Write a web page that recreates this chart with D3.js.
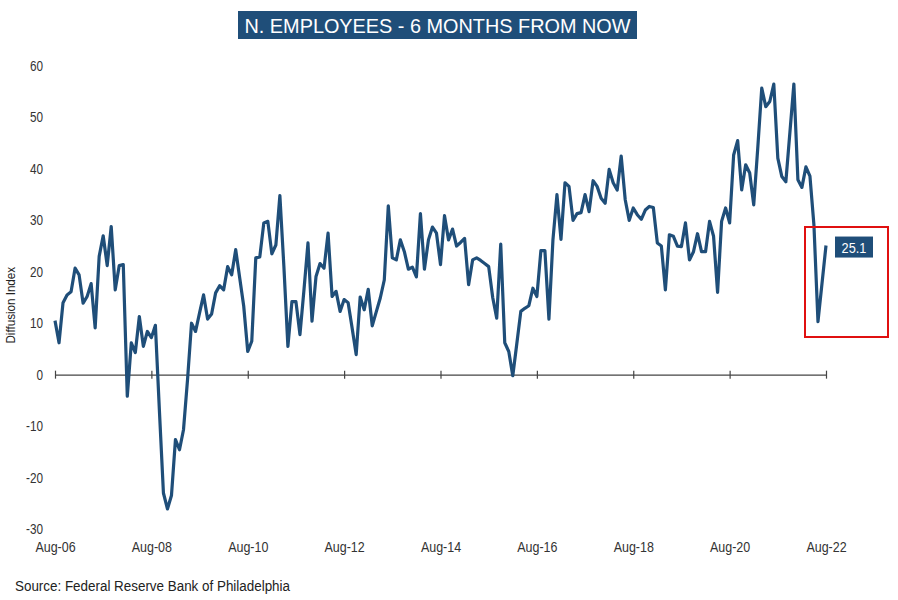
<!DOCTYPE html>
<html>
<head>
<meta charset="utf-8">
<script src="https://cdn.jsdelivr.net/npm/d3@7"></script>
<style>
  body { margin: 0; background: #fff; }
  svg text { font-family: "Liberation Sans Narrow", "Arial Narrow", "Liberation Sans", Arial, sans-serif; }
</style>
</head>
<body>
<div id="wrapper"></div>
<script>
// monthly diffusion index, Aug-06 .. Aug-22
const values = [
  10.5, 6.2, 14.0, 15.5, 16.1, 20.7, 19.4, 13.9, 15.2, 17.7, 9.1, 23.0,
  27.0, 21.2, 28.8, 16.5, 21.2, 21.4, -4.2, 6.2, 4.3, 11.3, 5.5, 8.4,
  7.2, 9.6, -7.0, -23.0, -26.1, -23.5, -12.6, -14.6, -10.7, -1.0, 10.0, 8.4,
  12.0, 15.5, 10.8, 11.8, 15.9, 17.3, 16.5, 21.0, 19.4, 24.3, 18.8, 13.3,
  4.5, 6.5, 22.7, 22.9, 29.5, 29.8, 23.5, 25.2, 34.8, 21.0, 5.5, 14.2,
  14.2, 7.8, 16.5, 25.6, 10.4, 19.1, 21.6, 20.7, 27.5, 15.2, 16.2, 12.3,
  14.6, 14.0, 9.0, 3.9, 15.1, 12.6, 16.6, 9.5, 12.2, 14.9, 18.4, 32.8,
  22.7, 22.3, 26.2, 23.9, 20.5, 20.9, 19.0, 31.3, 20.5, 26.2, 28.7, 27.5,
  21.4, 30.9, 26.2, 28.3, 25.0, 25.7, 26.5, 17.5, 22.3, 22.7, 22.2, 21.6,
  21.0, 15.0, 11.0, 25.4, 6.2, 4.5, -0.2, 6.0, 12.3, 12.9, 13.4, 16.8,
  15.2, 24.1, 24.1, 10.8, 26.2, 35.0, 26.3, 37.3, 36.6, 30.0, 31.3, 31.5,
  35.0, 31.7, 37.7, 36.6, 34.3, 33.3, 39.9, 37.3, 35.9, 42.5, 34.0, 30.0,
  32.4, 31.1, 30.2, 32.0, 32.7, 32.5, 25.6, 25.0, 16.5, 27.2, 26.9, 25.0,
  24.9, 29.5, 22.3, 23.9, 27.4, 23.9, 23.9, 29.8, 26.9, 16.0, 29.8, 32.4,
  29.5, 42.7, 45.5, 35.9, 40.8, 39.2, 33.0, 44.0, 55.7, 52.1, 53.1, 56.5,
  42.1, 38.5, 37.5, 47.0, 56.5, 37.9, 36.4, 40.4, 38.6, 29.0, 10.3, 17.7,
  25.1
];
const tickIndex = [0, 24, 48, 72, 96, 120, 144, 168, 192];
const tickLabels = ["Aug-06", "Aug-08", "Aug-10", "Aug-12", "Aug-14", "Aug-16", "Aug-18", "Aug-20", "Aug-22"];
const yTicks = [-30, -20, -10, 0, 10, 20, 30, 40, 50, 60];
const title = "N. EMPLOYEES - 6 MONTHS FROM NOW";
const yTitle = "Diffusion Index";
const source = "Source: Federal Reserve Bank of Philadelphia";

const blue = "#1f4e79";
const width = 898, height = 600;

// squeeze text horizontally to mimic a narrow face
function condense(sel, k) {
  sel.each(function () {
    const w = this.getComputedTextLength();
    d3.select(this).attr("textLength", w * k).attr("lengthAdjust", "spacingAndGlyphs");
  });
}

const svg = d3.select("#wrapper").append("svg")
  .attr("width", width)
  .attr("height", height);

// scales
const x = d3.scaleLinear().domain([0, values.length - 1]).range([55, 826]);
const y = d3.scaleLinear().domain([-30, 60]).range([529, 66]);

// title box
const titleG = svg.append("g");
titleG.append("rect")
  .attr("x", 238).attr("y", 11)
  .attr("width", 399).attr("height", 28)
  .attr("fill", blue);
titleG.append("text")
  .attr("x", 437.5).attr("y", 32.5)
  .attr("text-anchor", "middle")
  .attr("fill", "#fff")
  .attr("font-size", 21)
  .attr("textLength", 386)
  .attr("lengthAdjust", "spacingAndGlyphs")
  .text(title);

// y axis labels
const yAxis = svg.append("g")
  .attr("transform", "translate(43,0)")
  .call(d3.axisLeft(y).tickValues(yTicks).tickSize(0).tickPadding(0).tickFormat(d => String(d)));
yAxis.select(".domain").remove();
yAxis.selectAll("text")
  .attr("font-size", 14)
  .attr("fill", "#333")
  .call(condense, 0.84);

svg.append("text")
  .attr("transform", `translate(15,${y(13.5)}) rotate(-90)`)
  .attr("text-anchor", "middle")
  .attr("font-size", 13.5)
  .attr("fill", "#222")
  .text(yTitle)
  .call(condense, 0.86);

// zero line with ticks
const zeroAxis = svg.append("g")
  .attr("transform", `translate(0,${y(0)})`)
  .call(d3.axisBottom(x).tickValues(tickIndex).tickFormat("").tickSizeInner(4).tickSizeOuter(0));
zeroAxis.select(".domain").attr("stroke", "#444").attr("stroke-width", 1.2);
zeroAxis.selectAll(".tick line").attr("y1", -4).attr("stroke", "#444").attr("stroke-width", 1.2);

// bottom labels
const xLabels = svg.append("g")
  .attr("transform", "translate(0,540)")
  .call(d3.axisBottom(x).tickValues(tickIndex).tickFormat((d, i) => tickLabels[i]).tickSize(0).tickPadding(0));
xLabels.select(".domain").remove();
xLabels.selectAll("text")
  .attr("font-size", 14.5)
  .attr("fill", "#333")
  .attr("dy", "0.85em")
  .call(condense, 0.86);

// line
const line = d3.line()
  .x((d, i) => x(i))
  .y(d => y(d));
svg.append("path")
  .datum(values)
  .attr("fill", "none")
  .attr("stroke", blue)
  .attr("stroke-width", 3.2)
  .attr("stroke-linejoin", "round")
  .attr("d", line);

// last value label
const last = values[values.length - 1];
const lastX = x(values.length - 1);
svg.append("rect")
  .attr("x", lastX + 9).attr("y", y(last) - 9)
  .attr("width", 38).attr("height", 21)
  .attr("fill", blue);
svg.append("text")
  .attr("x", lastX + 28).attr("y", y(last) + 7)
  .attr("text-anchor", "middle")
  .attr("fill", "#fff")
  .attr("font-size", 14.5)
  .text(d3.format(".1f")(last))
  .call(condense, 0.88);

// highlight box
svg.append("rect")
  .attr("x", 805).attr("y", 227)
  .attr("width", 83).attr("height", 110)
  .attr("fill", "none")
  .attr("stroke", "#e01010")
  .attr("stroke-width", 2);

// source
svg.append("text")
  .attr("x", 15).attr("y", 591)
  .attr("font-size", 14)
  .attr("fill", "#222")
  .attr("textLength", 275)
  .attr("lengthAdjust", "spacingAndGlyphs")
  .text(source);
</script>
</body>
</html>
